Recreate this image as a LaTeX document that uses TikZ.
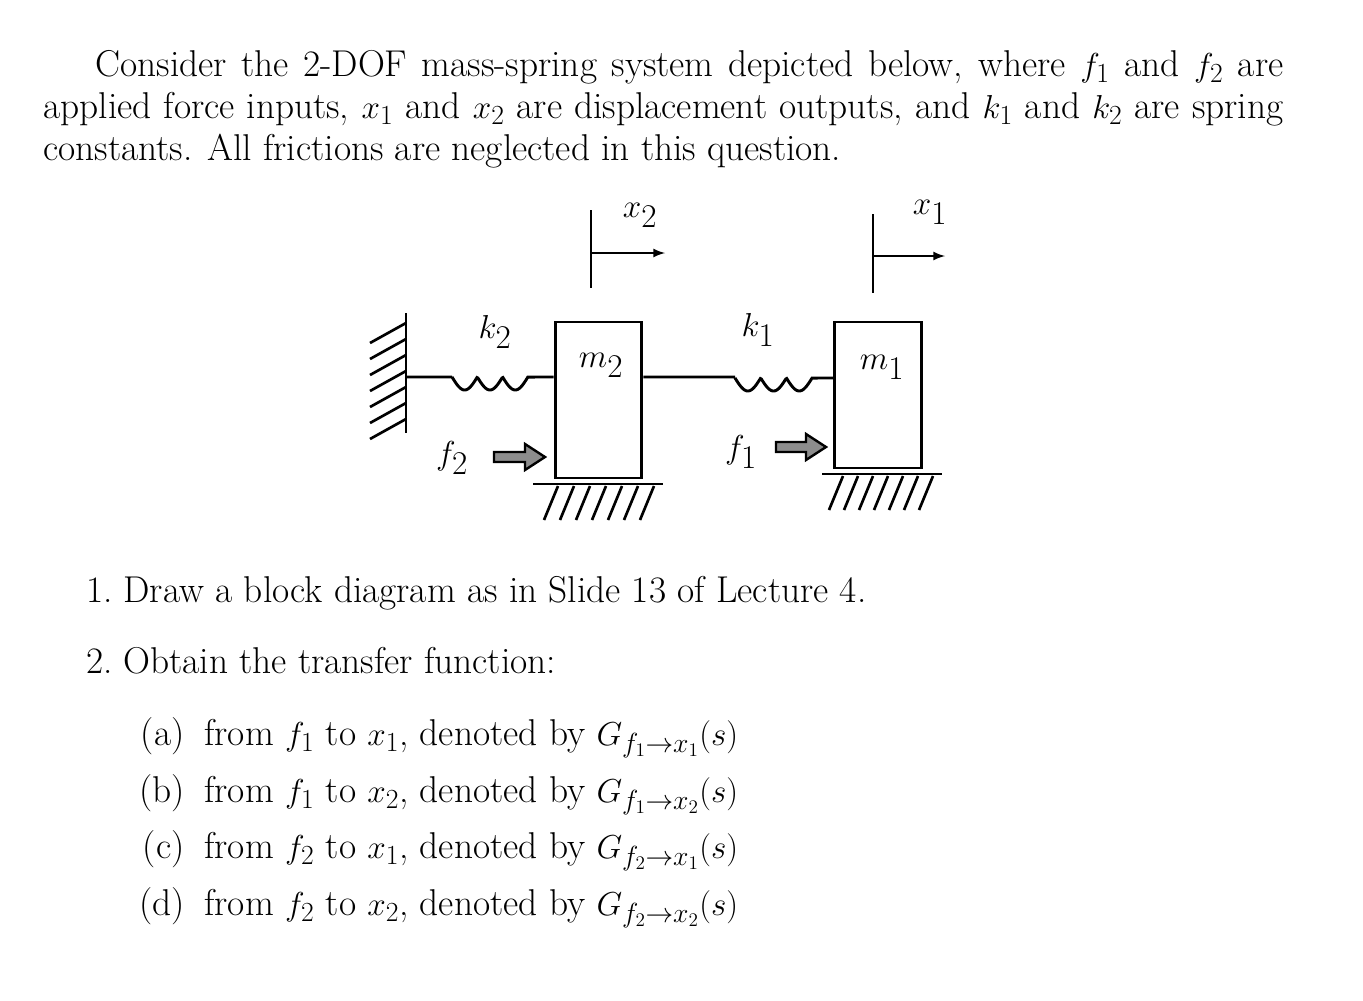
\documentclass[tikz,border=0pt]{standalone}
\usepackage{amsmath}
\begin{document}
\begin{tikzpicture}[x=0.75pt,y=-0.75pt,line width=2.2pt,
  lbl/.style={inner sep=0pt,font=\fontsize{44}{48}\selectfont},
  txt/.style={inner sep=0pt,anchor=base west,font=\fontsize{28}{31.5}\selectfont},
  hat/.style={line width=2pt},
  farrow/.style={draw=black,line width=1.8pt,fill=gray!90}]
\useasboundingbox (0,0) rectangle (1363,1000);
\fill[white] (0,0) rectangle (1363,1000);
\node[inner sep=0pt,anchor=north west,text width=930pt,align=justify,font=\fontsize{28}{31.5}\selectfont] (para) at (42,49)
{\hspace*{39pt}Consider the 2-DOF mass-spring system depicted below, where $f_1$ and $f_2$ are applied force inputs, $x_1$ and $x_2$ are displacement outputs, and $k_1$ and $k_2$ are spring constants. All frictions are neglected in this question.};
% wall
\draw (406,313) -- (406,433);
\foreach \i in {0,...,6} \draw[hat] (406,{323+\i*16}) -- (370,{343+\i*16});
% masses
\node[draw,minimum width=65pt,minimum height=117pt,inner sep=0pt] (m2) at (598.5,400) {};
\node[draw,minimum width=65pt,minimum height=109.5pt,inner sep=0pt] (m1) at (878,395) {};
\node[lbl] (m2l) at (601,365) {$m_2$};
\node[lbl] (m1l) at (882,367) {$m_1$};
% grounds
\draw (533,484) -- (663,484);
\foreach \i in {0,...,6} \draw[hat] ({558+\i*16},486) -- ({544+\i*16},520);
\draw (822,474) -- (942,474);
\foreach \i in {0,...,6} \draw[hat] ({843+\i*15},476) -- ({829+\i*15},510);
% springs
\coordinate (w) at (406,377);
\draw (w) -- (452,377) plot[domain=0:3,samples=80] ({452+\x*25.3},{377+13*abs(sin(\x*180))}) -- (m2.west |- 0,377);
\draw (m2.east |- 0,377) -- (735,377) plot[domain=0:3,samples=80] ({735+\x*25.7},{378+13*abs(sin(\x*180))}) -- (m1.west |- 0,378);
\node[lbl] (k2) at (495,332) {$k_2$};
\node[lbl] (k1) at (758,330) {$k_1$};
% displacement markers
\coordinate (x2a) at (591,210); \coordinate (x2b) at (591,288);
\draw (x2a) -- (x2b);
\coordinate (x2s) at (591,253); \coordinate (x2e) at (665,253);
\draw[-latex,line width=2pt] (x2s) -- (x2e);
\node[lbl] (x2l) at (640,215) {$x_2$};
\coordinate (x1a) at (873,214); \coordinate (x1b) at (873,293);
\draw (x1a) -- (x1b);
\coordinate (x1s) at (873,256); \coordinate (x1e) at (945,256);
\draw[-latex,line width=2pt] (x1s) -- (x1e);
\node[lbl] (x1l) at (930,212) {$x_1$};
% force arrows
\draw[farrow] (494,452) -- (525,452) -- (525,444) -- (545,457) -- (525,470) -- (525,462) -- (494,462) -- cycle;
\draw[farrow] (776,442) -- (806,442) -- (806,434) -- (826,447) -- (806,460) -- (806,452) -- (776,452) -- cycle;
\node[lbl] (f2) at (452,458) {$f_2$};
\node[lbl] (f1) at (741,452) {$f_1$};
% list
\node[txt] (i1) at (85,602) {1.\hspace{8pt}Draw a block diagram as in Slide 13 of Lecture 4.};
\node[txt] (i2) at (85,673) {2.\hspace{8pt}Obtain the transfer function:};
\node[txt,anchor=base east] (la) at (186,745) {(a)};
\node[txt] (ta) at (203,745) {from $f_1$ to $x_1$, denoted by $G_{f_1\to x_1}(s)$};
\node[txt,anchor=base east] (lb) at (186,802) {(b)};
\node[txt] (tb) at (203,802) {from $f_1$ to $x_2$, denoted by $G_{f_1\to x_2}(s)$};
\node[txt,anchor=base east] (lc) at (186,858) {(c)};
\node[txt] (tc) at (203,858) {from $f_2$ to $x_1$, denoted by $G_{f_2\to x_1}(s)$};
\node[txt,anchor=base east] (ld) at (186,915) {(d)};
\node[txt] (td) at (203,915) {from $f_2$ to $x_2$, denoted by $G_{f_2\to x_2}(s)$};
\end{tikzpicture}
\end{document}
